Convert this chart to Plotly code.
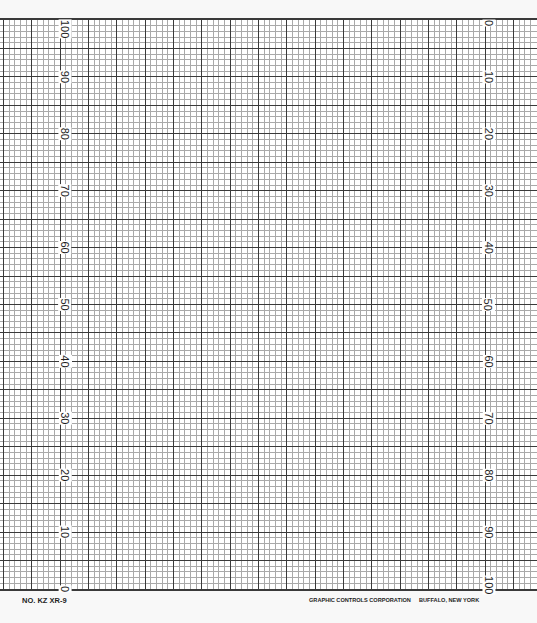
import plotly.graph_objects as go

# ---------------------------------------------------------------------------
# Scale data (chart-recorder paper, two opposed 0-100 scales)
# ---------------------------------------------------------------------------
LEFT_VALUES = [0, 10, 20, 30, 40, 50, 60, 70, 80, 90, 100]
RIGHT_VALUES = [0, 10, 20, 30, 40, 50, 60, 70, 80, 90, 100]
LEFT_LABELS = [str(v) for v in LEFT_VALUES]
RIGHT_LABELS = [str(v) for v in RIGHT_VALUES]

# x positions of the two printed scales (in minor divisions)
LEFT_SCALE_X = 0.9
RIGHT_SCALE_X = 75.7

FOOTER_LEFT = "NO. KZ XR-9"
FOOTER_RIGHT = ["GRAPHIC CONTROLS CORPORATION", "BUFFALO, NEW YORK"]

COLOUR_MAJOR = "#3a3a3a"
COLOUR_MINOR = "#a9a9a9"
COLOUR_TEXT = "#1e1e1e"

W, H = 537, 623
TOP, BOTTOM = 20, 34

fig = go.Figure()

# invisible trace so the axes get drawn
fig.add_trace(go.Scatter(x=[0], y=[0], mode="markers",
                         marker=dict(opacity=0), hoverinfo="skip",
                         showlegend=False))

# ---------------------------------------------------------------------------
# Scale labels (rotated, printed over the grid)
# ---------------------------------------------------------------------------
label_font = dict(family="Liberation Sans, Arial", size=11, color=COLOUR_TEXT)

for v, lab in zip(LEFT_VALUES, LEFT_LABELS):
    shift = -9 if v == 100 else 0
    fig.add_annotation(x=LEFT_SCALE_X, y=v, text=lab, showarrow=False,
                       textangle=90, yshift=shift, bgcolor="white",
                       borderpad=0, font=label_font)

for v, lab in zip(RIGHT_VALUES, RIGHT_LABELS):
    shift = 0
    if v == 0:
        shift = -3
    elif v == 100:
        shift = 4
    fig.add_annotation(x=RIGHT_SCALE_X, y=100 - v, text=lab, showarrow=False,
                       textangle=90, yshift=shift, bgcolor="white",
                       borderpad=0, font=label_font)

# ---------------------------------------------------------------------------
# Footer print
# ---------------------------------------------------------------------------
plot_h = H - TOP - BOTTOM
foot_y = -(600 - (H - BOTTOM)) / plot_h

fig.add_annotation(xref="paper", yref="paper", x=20 / W, y=foot_y,
                   xanchor="left", yanchor="middle", showarrow=False,
                   text=f"<b>{FOOTER_LEFT}</b>",
                   font=dict(family="Liberation Sans, Arial", size=7.5,
                             color=COLOUR_TEXT))
fig.add_annotation(xref="paper", yref="paper", x=307 / W, y=foot_y,
                   xanchor="left", yanchor="middle", showarrow=False,
                   text=f"<b>{FOOTER_RIGHT[0]}</b>",
                   font=dict(family="Liberation Sans, Arial", size=5.6,
                             color=COLOUR_TEXT))
fig.add_annotation(xref="paper", yref="paper", x=417 / W, y=foot_y,
                   xanchor="left", yanchor="middle", showarrow=False,
                   text=f"<b>{FOOTER_RIGHT[1]}</b>",
                   font=dict(family="Liberation Sans, Arial", size=5.6,
                             color=COLOUR_TEXT))

# ---------------------------------------------------------------------------
# Grid: dark line every 5 divisions, light line every division
# ---------------------------------------------------------------------------
x_unit = 425 / 75.0          # px per minor division horizontally
x0 = -60 / x_unit
x1 = x0 + W / x_unit

fig.update_xaxes(
    range=[x0, x1], tick0=0, dtick=5,
    showgrid=True, gridcolor=COLOUR_MAJOR, gridwidth=1.3,
    minor=dict(dtick=1, tick0=0, showgrid=True, gridcolor=COLOUR_MINOR,
               gridwidth=1),
    showticklabels=False, ticks="", zeroline=False,
    showline=True, mirror=True, linecolor=COLOUR_MAJOR, linewidth=1.5,
)
fig.update_yaxes(
    range=[0, 100], tick0=0, dtick=5,
    showgrid=True, gridcolor=COLOUR_MAJOR, gridwidth=1.3,
    minor=dict(dtick=1, tick0=0, showgrid=True, gridcolor=COLOUR_MINOR,
               gridwidth=1),
    showticklabels=False, ticks="", zeroline=False, showline=False,
)

fig.update_layout(
    width=W, height=H,
    margin=dict(l=0, r=0, t=TOP, b=BOTTOM),
    paper_bgcolor="#f8f8f8",
    plot_bgcolor="white",
    showlegend=False,
)

# remove the browser's default page margin so the figure sits at 0,0
fig.write_html("out.html",
               config={"displayModeBar": False},
               post_script="document.body.style.margin='0';")
